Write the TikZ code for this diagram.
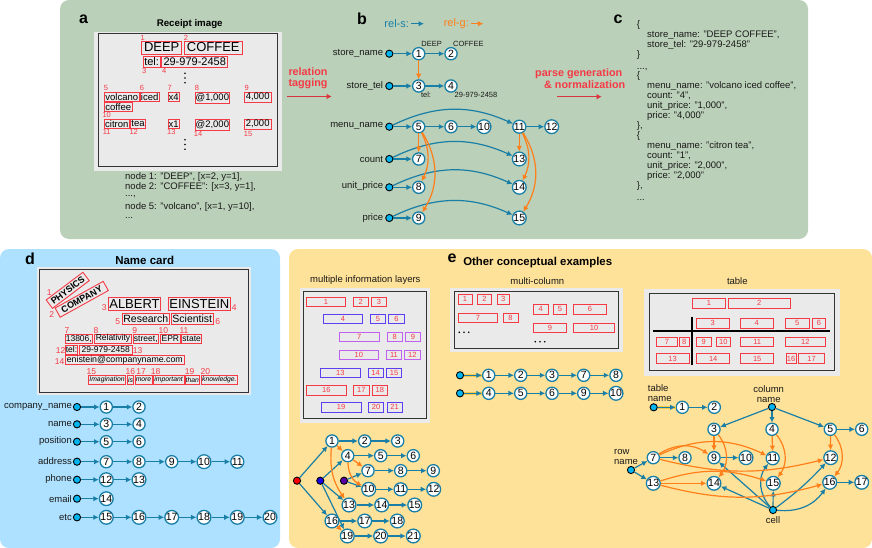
\documentclass[tikz,border=0pt]{standalone}
\usepackage{fontspec}
\setmainfont{Liberation Sans}
\usetikzlibrary{arrows.meta}
\definecolor{panelgreen}{HTML}{BAD0B8}
\definecolor{panelblue}{HTML}{ADE1FF}
\definecolor{panelyellow}{HTML}{FFE299}
\definecolor{relblue}{HTML}{1A7FA6}
\definecolor{relorange}{HTML}{FF7F1A}
\definecolor{fieldcyan}{HTML}{00B4F0}
\definecolor{tagred}{HTML}{F53A46}
\definecolor{tagblue}{HTML}{5A40F0}
\definecolor{tagpurple}{HTML}{C060F0}
\definecolor{cardgrey}{HTML}{EAEAEA}
\definecolor{highlight}{HTML}{F7C948}
\tikzset{
  graphnode/.style={shape=circle,draw=relblue,fill=white,line width=1.3pt,inner sep=0pt,minimum size=12.2pt,font=\fontsize{10.5}{10.5}\selectfont},
  fieldnode/.style={shape=circle,draw=black,fill=fieldcyan,line width=0.9pt,inner sep=0pt,minimum size=7.2pt},
  wordbox/.style={shape=rectangle,draw=tagred,line width=0.9pt,inner sep=0pt},
  tagbox/.style={shape=rectangle,line width=0.9pt,inner sep=0pt,minimum height=9.5pt,text=tagred,font=\fontsize{7.5}{7.5}\selectfont},
  tagnum/.style={text=tagred,inner sep=0pt},
  plaintext/.style={inner sep=0pt,text=black!90,font=\fontsize{9.5}{10}\selectfont},
  headtext/.style={inner sep=0pt,font=\bfseries\fontsize{9.7}{10}\selectfont},
  panelletter/.style={inner sep=0pt,font=\bfseries\fontsize{16}{16}\selectfont},
  redtext/.style={inner sep=0pt,text=tagred,font=\bfseries\fontsize{10.8}{11}\selectfont},
  relsline/.style={draw=relblue,line width=1.2pt,-{Latex[length=5.5pt,width=5.5pt]}},
  relgline/.style={draw=relorange,line width=1.2pt,-{Latex[length=5.5pt,width=5.5pt]}},
  redarrow/.style={draw=tagred!90!black,line width=1.6pt,-{Latex[length=5pt,width=5.5pt]}},
  hiline/.style={draw=highlight,line width=3pt},
}
\newcommand{\gnode}[4]{\node[graphnode] (#1) at (#2,#3){#4};}
\newcommand{\fnode}[3]{\node[fieldnode] (#1) at (#2,#3){};}
\newcommand{\fname}[4]{\node[plaintext,anchor=east] (#1) at (#2,#3){#4};}
\newcommand{\rels}[2]{\draw[relsline] (#1) -- (#2);}
\newcommand{\relg}[2]{\draw[relgline] (#1) -- (#2);}
\newcommand{\relscurve}[3]{\draw[relsline] (#1) to[#3] (#2);}
\newcommand{\relgcurve}[3]{\draw[relgline] (#1) to[#3] (#2);}
\newcommand{\cardarea}[8]{\fill[cardgrey] (#1,#2) rectangle (#3,#4); \draw[black!80,line width=0.9pt] (#5,#6) rectangle (#7,#8);}
\newcommand{\wbox}[7]{\node[wordbox,minimum width={(#3-#2)*1pt},minimum height={(#5-#4)*1pt},font=\fontsize{#6}{#6}\selectfont] (#1) at ({(#2+#3)/2},{(#4+#5)/2}){#7};}
\newcommand{\tbox}[6]{\node[tagbox,draw=#5,minimum width={(#3-#2)*1pt}] (#1) at ({(#2+#3)/2},#4){#6};}
\newcommand{\tnum}[4]{\node[tagnum,font=\fontsize{7.5}{7.5}\selectfont] (#1) at (#2,#3){#4};}
\newcommand{\tnumb}[4]{\node[tagnum,font=\fontsize{8.5}{8.5}\selectfont] (#1) at (#2,#3){#4};}
\newcommand{\dotsv}[2]{\fill[black] (#1,#2-4.7) circle (0.9) (#1,#2) circle (0.9) (#1,#2+4.7) circle (0.9);}
\newcommand{\dotsh}[2]{\fill[black] (#1-4.7,#2) circle (0.9) (#1,#2) circle (0.9) (#1+4.7,#2) circle (0.9);}
\begin{document}
\begin{tikzpicture}[x=1pt,y=-1pt]
    \useasboundingbox (0,0) rectangle (872,548);
    \fill[panelgreen,rounded corners=9] (60,0) rectangle (808,239);
    \fill[panelblue,rounded corners=9] (0,249) rectangle (280,548);
    \fill[panelyellow,rounded corners=9] (289,249) rectangle (872,548);
    %
    \node[panelletter] (lettera) at (83.5,19){a};
    \node[headtext] (receipt) at (189.7,23.7){Receipt image};
    \cardarea{94}{32}{282}{171}{98}{33.5}{277}{166}
    \wbox{a1}{141.7}{181.7}{41}{54}{13}{DEEP}
    \wbox{a2}{184.3}{242.3}{41}{54}{13}{COFFEE}
    \wbox{a3}{143.3}{160}{56}{67}{11}{tel:}
    \wbox{a4}{161.7}{227.7}{56}{67}{11}{29-979-2458}
    \wbox{a5}{104.3}{139.3}{92.3}{101.3}{9.5}{volcano}
    \wbox{a6}{140}{159.3}{92.3}{101.3}{9.5}{iced}
    \wbox{a7}{168}{179.3}{92.3}{101.3}{9.5}{x4}
    \wbox{a8}{195}{229.7}{92.3}{103}{9.5}{@1,000}
    \wbox{a9}{244.3}{271}{92.3}{102}{9.5}{4,000}
    \wbox{a10}{104.3}{132.3}{102.7}{111}{9.5}{coffee}
    \wbox{a11}{104.3}{129.3}{119.3}{128.3}{9.5}{citron}
    \wbox{a12}{130.7}{145.3}{119.3}{128.3}{9.5}{tea}
    \wbox{a13}{168}{179.3}{119.3}{128.3}{9.5}{x1}
    \wbox{a14}{195}{229.7}{119.3}{130}{9.5}{@2,000}
    \wbox{a15}{244.3}{271}{119.3}{129}{9.5}{2,000}
    \tnum{an1}{142.7}{37.7}{1}
    \tnum{an2}{186}{37.7}{2}
    \tnum{an3}{144.3}{70.7}{3}
    \tnum{an4}{164.3}{70.7}{4}
    \tnum{an5}{106}{88.3}{5}
    \tnum{an6}{142}{88.3}{6}
    \tnum{an7}{169.7}{88.3}{7}
    \tnum{an8}{197}{88.3}{8}
    \tnum{an9}{246.7}{88.3}{9}
    \tnum{an10}{106.7}{115}{10}
    \tnum{an11}{106.7}{132.3}{11}
    \tnum{an12}{133.7}{132.3}{12}
    \tnum{an13}{171.3}{132.3}{13}
    \tnum{an14}{198}{134.3}{14}
    \tnum{an15}{248}{134.3}{15}
    \dotsv{185}{78}
    \dotsv{185}{144.5}
    \node[plaintext,anchor=west] (aline1) at (125,176.7){node 1: "DEEP", [x=2, y=1],};
    \node[plaintext,anchor=west] (aline2) at (125,186.7){node 2: "COFFEE": [x=3, y=1],};
    \node[plaintext,anchor=west] (aline3) at (125,197){...,};
    \node[plaintext,anchor=west] (aline4) at (125,207.3){node 5: "volcano", [x=1, y=10],};
    \node[plaintext,anchor=west] (aline5) at (125,217.5){...};
    \node[redtext,align=center] (tagging) at (308,78.5){relation\\tagging};
    \coordinate (tagstart) at (286.7,96.5);
    \coordinate (tagend) at (331.7,96.5);
    \draw[redarrow] (tagstart) -- (tagend);
    %
    \node[panelletter] (letterb) at (362,19){b};
    \node[plaintext,text=relblue,font=\fontsize{11}{11}\selectfont] (relstext) at (396.7,23.3){rel-s:};
    \node[plaintext,text=relorange,font=\fontsize{11}{11}\selectfont] (relgtext) at (456.3,23.3){rel-g:};
    \coordinate (relsa) at (411,23.7);
    \coordinate (relsb) at (424,23.7);
    \coordinate (relga) at (470.7,23.7);
    \coordinate (relgb) at (483.3,23.7);
    \rels{relsa}{relsb}
    \relg{relga}{relgb}
    \fname{bn1}{383.3}{53.7}{store\_name}
    \fname{bn2}{383.3}{86}{store\_tel}
    \fname{bn3}{383.3}{126}{menu\_name}
    \fname{bn4}{383.3}{159}{count}
    \fname{bn5}{383.3}{186.5}{unit\_price}
    \fname{bn6}{383.3}{218}{price}
    \fnode{bf1}{389.3}{53.7}
    \fnode{bf2}{389.3}{86}
    \fnode{bf3}{389.3}{126.7}
    \fnode{bf4}{389.3}{159}
    \fnode{bf5}{389.3}{187.3}
    \fnode{bf6}{389.3}{218}
    \gnode{b1}{418.7}{53.7}{1}
    \gnode{b2}{451}{53.7}{2}
    \gnode{b3}{418.7}{86}{3}
    \gnode{b4}{451}{86}{4}
    \gnode{b5}{418.7}{126.7}{5}
    \gnode{b6}{451}{126.7}{6}
    \gnode{b10}{484}{126.7}{10}
    \gnode{b11}{519.3}{126.7}{11}
    \gnode{b12}{551.7}{126.7}{12}
    \gnode{b7}{418.7}{159}{7}
    \gnode{b13}{519.3}{159}{13}
    \gnode{b8}{418.7}{187.3}{8}
    \gnode{b14}{519.3}{187.3}{14}
    \gnode{b9}{418.7}{218}{9}
    \gnode{b15}{519.3}{218}{15}
    \node[plaintext,font=\fontsize{7.5}{8}\selectfont] (wdeep) at (431.7,44.3){DEEP};
    \node[plaintext,font=\fontsize{7.5}{8}\selectfont] (wcoffee) at (468.3,44.3){COFFEE};
    \node[plaintext,font=\fontsize{7.5}{8}\selectfont] (wtel) at (426,95){tel:};
    \node[plaintext,font=\fontsize{7.5}{8}\selectfont] (wphone) at (476,95){29-979-2458};
    \rels{bf1}{b1}
    \rels{b1}{b2}
    \rels{bf2}{b3}
    \rels{b3}{b4}
    \rels{bf3}{b5}
    \rels{b5}{b6}
    \rels{b6}{b10}
    \rels{b11}{b12}
    \rels{bf4}{b7}
    \rels{bf5}{b8}
    \rels{bf6}{b9}
    \relscurve{bf3}{b11}{bend left=25}
    \relscurve{bf4}{b13}{bend left=25}
    \relscurve{bf5}{b14}{bend left=25}
    \relscurve{bf6}{b15}{bend left=25}
    \relg{b1}{b3}
    \relg{b5}{b7}
    \relgcurve{b5}{b8}{bend left=26}
    \relgcurve{b5}{b9}{bend left=32}
    \relg{b11}{b13}
    \relgcurve{b11}{b14}{bend left=26}
    \relgcurve{b11}{b15}{bend left=32}
    %
    \node[panelletter] (letterc) at (618,19){c};
    \node[redtext,anchor=west] (parsea) at (535,74){parse generation};
    \node[redtext,anchor=west] (parseb) at (544,85){\& normalization};
    \coordinate (parsestart) at (557.3,96.7);
    \coordinate (parseend) at (601.7,96.7);
    \draw[redarrow] (parsestart) -- (parseend);
    \node[plaintext,anchor=north west,align=left] (parsetext) at (636.7,20.2){\{\\
      \hspace*{10.3pt}store\_name: "DEEP COFFEE",\\
      \hspace*{10.3pt}store\_tel: "29-979-2458"\\
      \}\\[2pt]
      ...,\\[-1pt]
      \{\\
      \hspace*{10.3pt}menu\_name: "volcano iced coffee",\\
      \hspace*{10.3pt}count: "4",\\
      \hspace*{10.3pt}unit\_price: "1,000",\\
      \hspace*{10.3pt}price: "4,000"\\
      \},\\
      \{\\
      \hspace*{10.3pt}menu\_name: "citron tea",\\
      \hspace*{10.3pt}count: "1",\\
      \hspace*{10.3pt}unit\_price: "2,000",\\
      \hspace*{10.3pt}price: "2,000"\\
      \},\\[2pt]
      ...};
    %
    \node[panelletter] (letterd) at (30,259){d};
    \node[headtext,font=\bfseries\fontsize{11.5}{12}\selectfont] (namecard) at (144.7,260.3){Name card};
    \cardarea{37.3}{266.7}{250.7}{395}{39.7}{269}{248.7}{392.7}
    \node[wordbox,rotate=37,minimum width=46pt,minimum height=10.5pt,font=\bfseries\fontsize{9}{9}\selectfont] (d1) at (67.7,290.3){PHYSICS};
    \node[wordbox,rotate=29,minimum width=55pt,minimum height=10.5pt,font=\bfseries\fontsize{9}{9}\selectfont] (d2) at (81.7,299.3){COMPANY};
    \wbox{d3}{108.3}{160.7}{297.7}{310.7}{13}{ALBERT}
    \wbox{d4}{168}{230.7}{297.7}{310.7}{13}{EINSTEIN}
    \wbox{d5}{122}{169.7}{313.7}{324}{10.5}{Research}
    \wbox{d6}{171.3}{213.3}{313.7}{324}{10.5}{Scientist}
    \wbox{d7}{65.3}{92.3}{334.3}{343.3}{8.5}{13806,}
    \wbox{d8}{94.3}{131.7}{334.3}{343.3}{8.5}{Relativity}
    \wbox{d9}{133.3}{158.3}{334.3}{343.3}{8.5}{street,}
    \wbox{d10}{160.7}{180}{334.3}{343.3}{8.5}{EPR}
    \wbox{d11}{181.7}{201.7}{334.3}{343.3}{8.5}{state}
    \wbox{d12}{65.3}{77.7}{345}{354}{8.5}{tel:}
    \wbox{d13}{79.3}{132.3}{345}{354}{8.5}{29-979-2458}
    \wbox{d14}{65.3}{184.3}{355.7}{364.7}{8.8}{enistein@companyname.com}
    \wbox{d15}{88.3}{125.7}{375.7}{384.3}{6.8}{\itshape Imagination}
    \wbox{d16}{127.3}{133.7}{375.7}{384.3}{6.8}{\itshape is}
    \wbox{d17}{135}{152}{375.7}{384.3}{6.8}{\itshape more}
    \wbox{d18}{153.3}{184}{375.7}{384.3}{6.8}{\itshape important}
    \wbox{d19}{185.3}{199.3}{375.7}{384.3}{6.8}{\itshape than}
    \wbox{d20}{201}{237.7}{375.7}{384.3}{6.8}{\itshape knowledge.}
    \tnumb{dn1}{49.3}{292.3}{1}
    \tnumb{dn2}{51.7}{315}{2}
    \tnumb{dn3}{104.3}{307.3}{3}
    \tnumb{dn4}{234.3}{307.3}{4}
    \tnumb{dn5}{117.7}{321.3}{5}
    \tnumb{dn6}{217.7}{321.3}{6}
    \tnumb{dn7}{67}{330.3}{7}
    \tnumb{dn8}{96}{330.3}{8}
    \tnumb{dn9}{134.7}{330.3}{9}
    \tnumb{dn10}{163.3}{330.3}{10}
    \tnumb{dn11}{184}{330.3}{11}
    \tnumb{dn12}{60.7}{350.3}{12}
    \tnumb{dn13}{137.7}{350.3}{13}
    \tnumb{dn14}{59.7}{361.7}{14}
    \tnumb{dn15}{91.3}{372}{15}
    \tnumb{dn16}{130.3}{372}{16}
    \tnumb{dn17}{141}{372}{17}
    \tnumb{dn18}{155.7}{372}{18}
    \tnumb{dn19}{189.7}{372}{19}
    \tnumb{dn20}{205.3}{372}{20}
    %
    \fname{dm1}{72}{406.5}{company\_name}
    \fname{dm2}{72}{424.3}{name}
    \fname{dm3}{72}{441}{position}
    \fname{dm4}{72}{461.3}{address}
    \fname{dm5}{72}{479.3}{phone}
    \fname{dm6}{72}{498.7}{email}
    \fname{dm7}{72}{517.3}{etc}
    \fnode{df1}{77}{407}
    \fnode{df2}{77}{424.3}
    \fnode{df3}{77}{441.7}
    \fnode{df4}{77}{461.7}
    \fnode{df5}{77}{479.7}
    \fnode{df6}{77}{498.7}
    \fnode{df7}{77}{517.3}
    \gnode{g1}{106.3}{407}{1}
    \gnode{g2}{139}{407}{2}
    \gnode{g3}{106.3}{424.3}{3}
    \gnode{g4}{139}{424.3}{4}
    \gnode{g5}{106.3}{441.7}{5}
    \gnode{g6}{139}{441.7}{6}
    \gnode{g7}{106.3}{461.7}{7}
    \gnode{g8}{139}{461.7}{8}
    \gnode{g9}{171.7}{461.7}{9}
    \gnode{g10}{204}{461.7}{10}
    \gnode{g11}{237.3}{461.7}{11}
    \gnode{g12}{106.3}{479.7}{12}
    \gnode{g13}{139}{479.7}{13}
    \gnode{g14}{106.3}{498.7}{14}
    \gnode{g15}{106.3}{517.3}{15}
    \gnode{g16}{139}{517.3}{16}
    \gnode{g17}{171.7}{517.3}{17}
    \gnode{g18}{204}{517.3}{18}
    \gnode{g19}{237.3}{517.3}{19}
    \gnode{g20}{270}{517.3}{20}
    \rels{df1}{g1}
    \rels{g1}{g2}
    \rels{df2}{g3}
    \rels{g3}{g4}
    \rels{df3}{g5}
    \rels{g5}{g6}
    \rels{df4}{g7}
    \rels{g7}{g8}
    \rels{g8}{g9}
    \rels{g9}{g10}
    \rels{g10}{g11}
    \rels{df5}{g12}
    \rels{g12}{g13}
    \rels{df6}{g14}
    \rels{df7}{g15}
    \rels{g15}{g16}
    \rels{g16}{g17}
    \rels{g17}{g18}
    \rels{g18}{g19}
    \rels{g19}{g20}
    %
    \node[panelletter] (lettere) at (452,258){e};
    \node[headtext,font=\bfseries\fontsize{11.4}{12}\selectfont] (otherhead) at (537.7,263){Other conceptual examples};
    \node[plaintext] (layerhead) at (365.3,279.7){multiple information layers};
    \cardarea{299.7}{287.7}{430.3}{422.7}{303}{291}{426.3}{418.3}
    \tbox{l1}{306}{345.7}{302}{tagred}{1}
    \tbox{l2}{353}{368.3}{302}{tagred}{2}
    \tbox{l3}{371.3}{386.7}{302}{tagred}{3}
    \tbox{l4}{323}{362.7}{318.7}{tagblue}{4}
    \tbox{l5}{370.3}{385.7}{318.7}{tagblue}{5}
    \tbox{l6}{388.7}{404}{318.7}{tagblue}{6}
    \tbox{l7}{339.3}{379.3}{336.7}{tagpurple}{7}
    \tbox{l8}{387}{402.3}{336.7}{tagpurple}{8}
    \tbox{l9}{405.3}{420.7}{336.7}{tagpurple}{9}
    \tbox{l10}{339}{378.7}{355}{tagpurple}{10}
    \tbox{l11}{386.3}{401.7}{355}{tagpurple}{11}
    \tbox{l12}{404.7}{420}{355}{tagpurple}{12}
    \tbox{l13}{320.3}{360.3}{372.7}{tagblue}{13}
    \tbox{l14}{368}{383.3}{372.7}{tagblue}{14}
    \tbox{l15}{386.3}{401.7}{372.7}{tagblue}{15}
    \tbox{l16}{306.3}{346.3}{390.3}{tagred}{16}
    \tbox{l17}{353.7}{369}{390.3}{tagred}{17}
    \tbox{l18}{372.3}{387.3}{390.3}{tagred}{18}
    \tbox{l19}{321.3}{361}{407.3}{tagblue}{19}
    \tbox{l20}{368.3}{383.7}{407.3}{tagblue}{20}
    \tbox{l21}{387}{402.3}{407.3}{tagblue}{21}
    %
    \node[fieldnode,fill=red] (lred) at (297,480.7){};
    \node[fieldnode,fill=blue!90!red] (lblue) at (320.3,480.7){};
    \node[fieldnode,fill=violet!70!blue] (lpurple) at (344,480.7){};
    \gnode{p1}{332}{441}{1}
    \gnode{p2}{364.7}{441}{2}
    \gnode{p3}{397.7}{441}{3}
    \gnode{p4}{347.7}{455.7}{4}
    \gnode{p5}{380.7}{455.7}{5}
    \gnode{p6}{413.3}{455.7}{6}
    \gnode{p7}{368}{470.7}{7}
    \gnode{p8}{400.7}{470.7}{8}
    \gnode{p9}{433.3}{470.7}{9}
    \gnode{p10}{368.7}{489.3}{10}
    \gnode{p11}{400.7}{489.3}{11}
    \gnode{p12}{433.7}{489.3}{12}
    \gnode{p13}{349}{505}{13}
    \gnode{p14}{381.7}{505}{14}
    \gnode{p15}{414.7}{505}{15}
    \gnode{p16}{332}{521}{16}
    \gnode{p17}{364.7}{521}{17}
    \gnode{p18}{397.3}{521}{18}
    \gnode{p19}{347.3}{536}{19}
    \gnode{p20}{380.7}{536}{20}
    \gnode{p21}{413.3}{536}{21}
    \rels{lred}{p1}
    \rels{lred}{p16}
    \rels{lblue}{p4}
    \rels{lblue}{p13}
    \rels{lblue}{p19}
    \rels{lpurple}{p7}
    \rels{lpurple}{p10}
    \rels{p1}{p2}
    \rels{p2}{p3}
    \rels{p4}{p5}
    \rels{p5}{p6}
    \rels{p7}{p8}
    \rels{p8}{p9}
    \rels{p10}{p11}
    \rels{p11}{p12}
    \rels{p13}{p14}
    \rels{p14}{p15}
    \rels{p16}{p17}
    \rels{p17}{p18}
    \rels{p19}{p20}
    \rels{p20}{p21}
    \relg{p1}{p4}
    \relg{p4}{p7}
    \relg{p16}{p19}
    \relgcurve{p1}{p13}{bend right=20}
    \relgcurve{p4}{p10}{bend right=30}
    %
    \node[plaintext] (columnhead) at (537.3,281){multi-column};
    \cardarea{450.3}{288.3}{622.7}{352.3}{454}{291.7}{618.7}{348.3}
    \tbox{c1}{458}{472}{299.3}{tagred}{1}
    \tbox{c2}{477.7}{491}{299.3}{tagred}{2}
    \tbox{c3}{497.3}{509}{299.3}{tagred}{3}
    \tbox{c7}{458}{497.7}{317.7}{tagred}{7}
    \tbox{c8}{503}{518}{317.7}{tagred}{8}
    \tbox{c4}{533.3}{548}{309.3}{tagred}{4}
    \tbox{c5}{553.3}{566.7}{309.3}{tagred}{5}
    \tbox{c6}{573}{606.7}{309.3}{tagred}{6}
    \tbox{c9}{533.3}{566.7}{327.7}{tagred}{9}
    \tbox{c10}{573.3}{614.7}{327.7}{tagred}{10}
    \dotsh{464}{332.3}
    \dotsh{540}{341.7}
    %
    \fnode{mf1}{460}{375.3}
    \fnode{mf2}{460}{393.3}
    \gnode{m1}{488.7}{375.3}{1}
    \gnode{m2}{520.7}{375.3}{2}
    \gnode{m3}{552}{375.3}{3}
    \gnode{m7}{583.7}{375.3}{7}
    \gnode{m8}{616}{375.3}{8}
    \gnode{m4}{488.7}{393.3}{4}
    \gnode{m5}{520.7}{393.3}{5}
    \gnode{m6}{552}{393.3}{6}
    \gnode{m9}{583.7}{393.3}{9}
    \gnode{m10}{616}{393.3}{10}
    \draw[hiline] (mf1) -- (m1);
    \draw[hiline] (mf2) -- (m4);
    \rels{mf1}{m1}
    \rels{m1}{m2}
    \rels{m2}{m3}
    \rels{m3}{m7}
    \rels{m7}{m8}
    \rels{mf2}{m4}
    \rels{m4}{m5}
    \rels{m5}{m6}
    \rels{m6}{m9}
    \rels{m9}{m10}
    %
    \node[plaintext] (tablehead) at (737.3,281){table};
    \cardarea{644}{288.7}{840}{376.3}{649.3}{293.3}{834.3}{370.3}
    \draw[black,line width=1.7pt] (652.7,331) -- (830,331) (692.3,317.3) -- (692.3,365.3);
    \tbox{t1}{692.3}{725.7}{303.2}{tagred}{1}
    \tbox{t2}{728}{790.3}{303.2}{tagred}{2}
    \tbox{t3}{696.3}{729.3}{323.2}{tagred}{3}
    \tbox{t4}{740.3}{773.3}{323.2}{tagred}{4}
    \tbox{t5}{785.3}{809}{323.2}{tagred}{5}
    \tbox{t6}{812.3}{825.7}{323.2}{tagred}{6}
    \tbox{t7}{656}{677.7}{342.1}{tagred}{7}
    \tbox{t8}{679.3}{689.3}{342.1}{tagred}{8}
    \tbox{t9}{696.3}{711}{342.1}{tagred}{9}
    \tbox{t10}{716.7}{730}{342.1}{tagred}{10}
    \tbox{t11}{740.7}{773.7}{342.1}{tagred}{11}
    \tbox{t12}{785.7}{825}{342.1}{tagred}{12}
    \tbox{t13}{656}{689}{358.5}{tagred}{13}
    \tbox{t14}{696.7}{729.7}{358.5}{tagred}{14}
    \tbox{t15}{740.7}{773.7}{358.5}{tagred}{15}
    \tbox{t16}{786}{796.3}{358.5}{tagred}{16}
    \tbox{t17}{798.3}{824.7}{358.5}{tagred}{17}
    %
    \node[plaintext,anchor=west,align=left] (tablename) at (647.7,393.3){table\\name};
    \node[plaintext,align=center] (columnname) at (768.7,394){column\\name};
    \node[plaintext,anchor=west,align=left] (rowname) at (614,457){row\\name};
    \node[plaintext] (cellname) at (773,520.3){cell};
    \fnode{ftable}{653.7}{407.3}
    \fnode{fcolumn}{772}{407}
    \fnode{frow}{631}{470}
    \fnode{fcell}{773}{510}
    \gnode{r1}{682.3}{407.3}{1}
    \gnode{r2}{714.3}{407.3}{2}
    \gnode{r3}{714}{429.3}{3}
    \gnode{r4}{772}{429.3}{4}
    \gnode{r5}{830.3}{429.3}{5}
    \gnode{r6}{861.7}{429.3}{6}
    \gnode{r7}{653.3}{457.7}{7}
    \gnode{r8}{685}{457.7}{8}
    \gnode{r9}{714}{457.7}{9}
    \gnode{r10}{746}{457.7}{10}
    \gnode{r11}{772.7}{458.3}{11}
    \gnode{r12}{830.7}{457.7}{12}
    \gnode{r13}{653.3}{483.3}{13}
    \gnode{r14}{714}{483.3}{14}
    \gnode{r15}{773.3}{483.3}{15}
    \gnode{r16}{829.7}{482.3}{16}
    \gnode{r17}{861.7}{482.3}{17}
    \draw[hiline] (ftable) -- (r1);
    \rels{ftable}{r1}
    \rels{r1}{r2}
    \rels{fcolumn}{r3}
    \rels{fcolumn}{r4}
    \rels{fcolumn}{r5}
    \rels{r5}{r6}
    \rels{frow}{r7}
    \rels{frow}{r13}
    \rels{r7}{r8}
    \rels{r9}{r10}
    \rels{r16}{r17}
    \rels{fcell}{r9}
    \rels{fcell}{r14}
    \rels{fcell}{r15}
    \relscurve{fcell}{r11}{bend left=40}
    \relscurve{fcell}{r12}{bend right=5}
    \relscurve{fcell}{r16}{bend right=30}
    \relg{r3}{r9}
    \relg{r4}{r11}
    \relg{r5}{r12}
    \relg{r13}{r14}
    \relgcurve{r3}{r14}{bend left=38}
    \relgcurve{r4}{r15}{bend left=38}
    \relgcurve{r5}{r16}{bend left=38}
    \relgcurve{r7}{r9}{bend left=33}
    \relgcurve{r7}{r11}{bend left=25}
    \relgcurve{r7}{r12}{bend right=14}
    \relgcurve{r13}{r15}{bend left=18}
    \relgcurve{r13}{r16}{bend right=15}
\end{tikzpicture}
\end{document}
